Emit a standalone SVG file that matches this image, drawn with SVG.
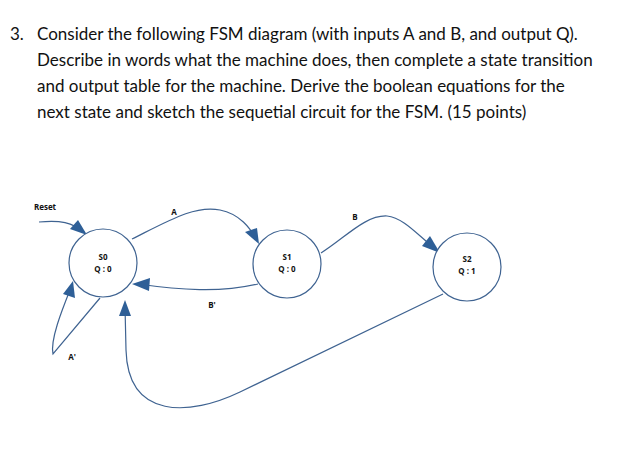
<svg xmlns="http://www.w3.org/2000/svg" width="640" height="460" viewBox="0 0 640 460">
<defs>
<marker id="ah" viewBox="0 0 10 10" refX="10" refY="5" markerWidth="5" markerHeight="5" orient="auto" markerUnits="userSpaceOnUse">
<path d="M0,0 L10,5 L0,10 z" fill="#2e5f97"/></marker>
<style>
.q{font-family:Lato,"Open Sans",sans-serif;font-size:17px;fill:#111}
.l{font-family:"Open Sans","Liberation Sans",sans-serif;font-size:8px;font-weight:bold;fill:#111;text-anchor:middle}
.n{fill:#fff;stroke:#3f6391;stroke-width:1.2}
.c{fill:none;stroke:#3f6391;stroke-width:1.2;marker-end:url(#ah)}
</style>
</defs>
<rect width="640" height="460" fill="#fff"/>
<text class="q" x="10" y="40">3.</text>
<text class="q" x="37" y="40">Consider the following FSM diagram (with inputs A and B, and output Q).</text>
<text class="q" x="37" y="66">Describe in words what the machine does, then complete a state transition</text>
<text class="q" x="37" y="92">and output table for the machine. Derive the boolean equations for the</text>
<text class="q" x="37" y="118">next state and sketch the sequetial circuit for the FSM. (15 points)</text>
<g id="connectors">
<path class="c" d="M39,222 C60,220 72,222 85,233" style="marker-end:none"/>
<path d="M39,222 C60,220 72,222 85,233" fill="none" stroke="none"/>
<polygon points="87,235 70,229 78,220" fill="#2e5f97"/>
<path d="M132,239 C170,220 195,205 220,210 C240,214 250,228 257,240" fill="none" stroke="#3f6391" stroke-width="1.2"/>
<polygon points="259,244 245,232 257,228" fill="#2e5f97"/>
<path d="M321,253 C345,238 365,215 387,216 C405,218 420,238 437,250" fill="none" stroke="#3f6391" stroke-width="1.2"/>
<polygon points="440,253 422,246 430,236" fill="#2e5f97"/>
<path d="M258,284 C220,293 180,290 138,284" fill="none" stroke="#3f6391" stroke-width="1.2"/>
<polygon points="132,284 150,278 149,291" fill="#2e5f97"/>
<path d="M100,298 L53,354 C50,340 62,310 70,290" fill="none" stroke="#3f6391" stroke-width="1.2"/>
<polygon points="73,281 75,298 63,294" fill="#2e5f97"/>
<path d="M443,294 L240,392 C190,416 128,420 126,350 L125,306" fill="none" stroke="#3f6391" stroke-width="1.2"/>
<polygon points="125,300 131,316 119,316" fill="#2e5f97"/>
</g>
<text class="l" x="45" y="210">Reset</text>
<text class="l" x="174" y="215">A</text>
<text class="l" x="355" y="220">B</text>
<text class="l" x="212" y="308">B'</text>
<text class="l" x="72" y="360">A'</text>
<g id="S0"><circle class="n" cx="103" cy="263" r="34"/><text class="l" x="103" y="260">S0</text><text class="l" x="103" y="272">Q : 0</text></g>
<g id="S1"><circle class="n" cx="287" cy="264" r="34"/><text class="l" x="287" y="260">S1</text><text class="l" x="287" y="272">Q : 0</text></g>
<g id="S2"><circle class="n" cx="467" cy="267" r="34"/><text class="l" x="467" y="262">S2</text><text class="l" x="467" y="274">Q : 1</text></g>
</svg>
